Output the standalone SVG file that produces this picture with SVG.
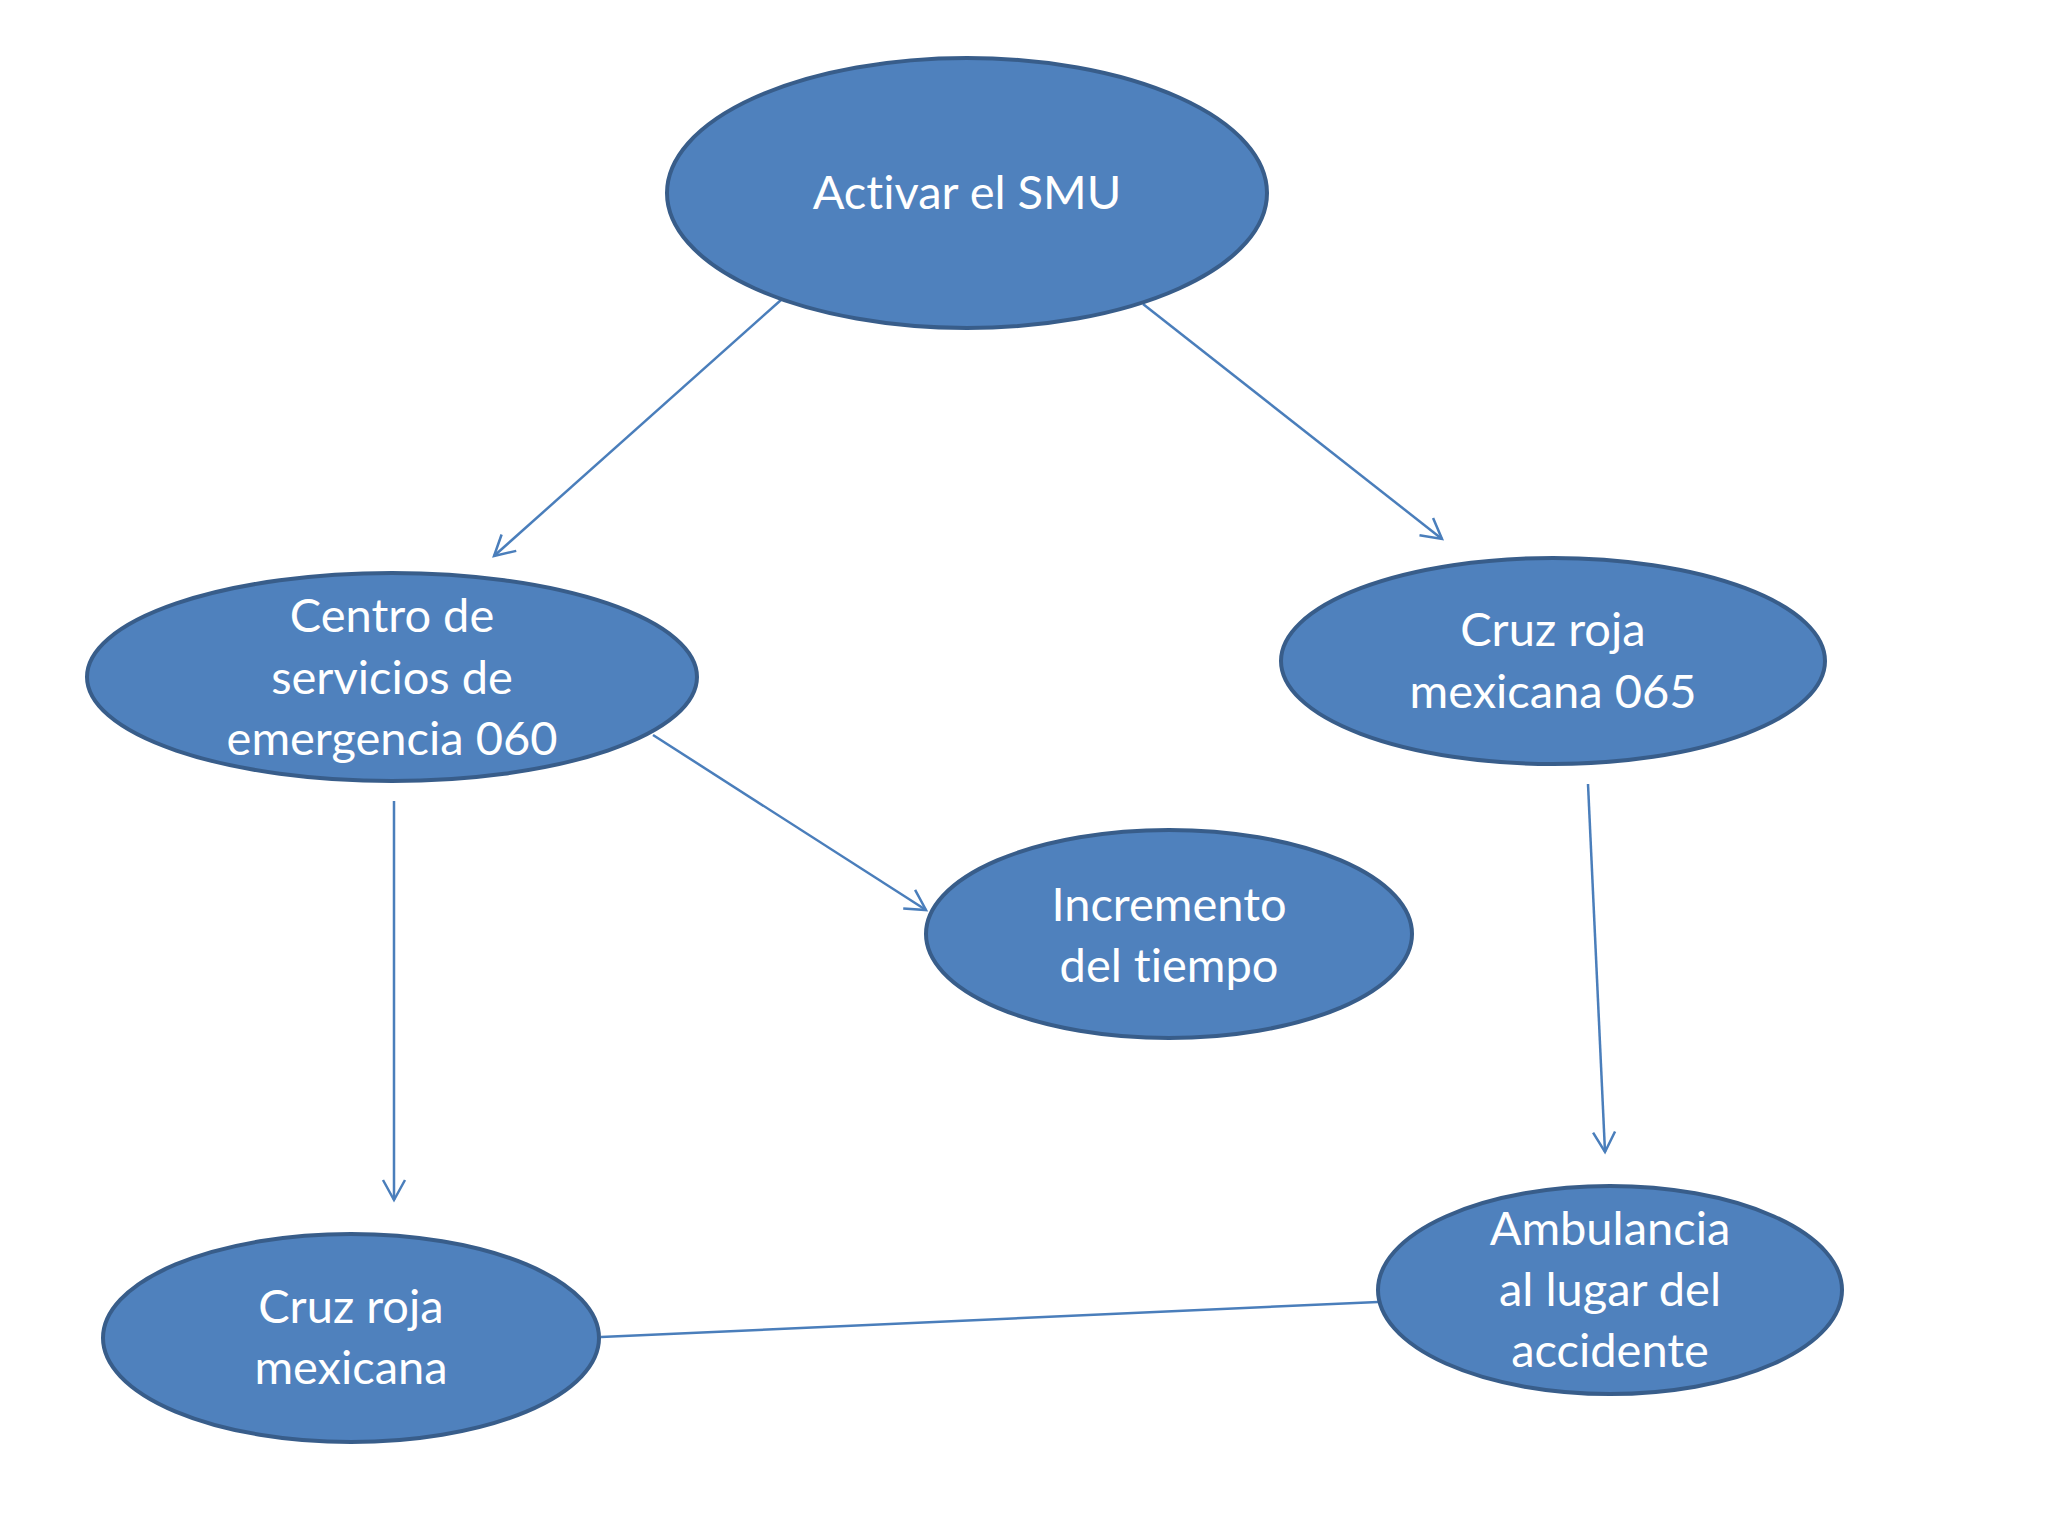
<svg xmlns="http://www.w3.org/2000/svg" width="2048" height="1536" viewBox="0 0 2048 1536">
<style>
.node ellipse{fill:#4F81BD;stroke:#385D8A;stroke-width:4}
.node text{font-family:Lato,"Open Sans",sans-serif;font-size:47px;fill:#FFFFFF;text-anchor:middle;font-variant-ligatures:none;font-feature-settings:"liga" 0,"clig" 0}
.conn line{stroke:#4A7EBB;stroke-width:2.5;fill:none}
</style>
<defs>
<marker id="arr" markerUnits="userSpaceOnUse" markerWidth="30" markerHeight="30" viewBox="0 0 30 30" refX="24" refY="15" orient="auto">
<path d="M4,4 L24,15 L4,26" fill="none" stroke="#4A7EBB" stroke-width="2.5"/>
</marker>
</defs>
<rect width="2048" height="1536" fill="#FFFFFF"/>
<g id="connectors" class="conn">
<line x1="781" y1="300" x2="494" y2="556" marker-end="url(#arr)"/>
<line x1="1143" y1="304" x2="1442" y2="539" marker-end="url(#arr)"/>
<line x1="653" y1="735" x2="926" y2="910" marker-end="url(#arr)"/>
<line x1="394" y1="801" x2="394" y2="1200" marker-end="url(#arr)"/>
<line x1="1588" y1="784" x2="1605" y2="1152" marker-end="url(#arr)"/>
<line x1="601" y1="1337" x2="1378" y2="1302"/>
</g>
<g id="n-activar" class="node">
<ellipse cx="967" cy="193" rx="300" ry="135"/>
<text x="967" y="209">Activar el SMU</text>
</g>
<g id="n-centro" class="node">
<ellipse cx="392" cy="677" rx="305" ry="104"/>
<text x="392" y="632">Centro de</text>
<text x="392" y="694">servicios de</text>
<text x="392" y="755">emergencia 060</text>
</g>
<g id="n-cruz065" class="node">
<ellipse cx="1553" cy="661" rx="272" ry="103"/>
<text x="1553" y="646">Cruz roja</text>
<text x="1553" y="708">mexicana 065</text>
</g>
<g id="n-incremento" class="node">
<ellipse cx="1169" cy="934" rx="243" ry="104"/>
<text x="1169" y="921">Incremento</text>
<text x="1169" y="982">del tiempo</text>
</g>
<g id="n-cruzmex" class="node">
<ellipse cx="351" cy="1338" rx="248" ry="104"/>
<text x="351" y="1323">Cruz roja</text>
<text x="351" y="1384">mexicana</text>
</g>
<g id="n-ambulancia" class="node">
<ellipse cx="1610" cy="1290" rx="232" ry="104"/>
<text x="1610" y="1245">Ambulancia</text>
<text x="1610" y="1306">al lugar del</text>
<text x="1610" y="1367">accidente</text>
</g>
</svg>
